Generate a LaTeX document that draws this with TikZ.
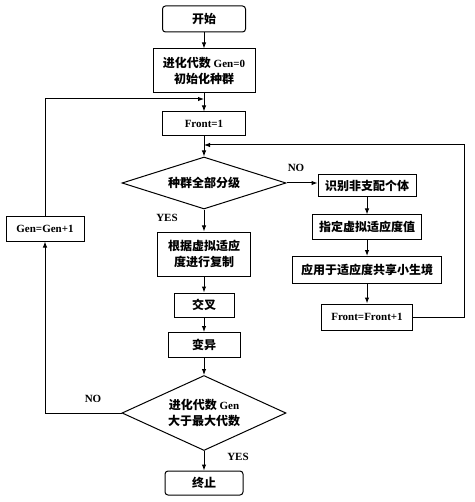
\documentclass[tikz,border=0pt]{standalone}
\usepackage{fontspec}
\setmainfont{Liberation Serif}
\newfontfamily\cjk{Noto Sans CJK SC}
\usetikzlibrary{shapes.geometric,arrows.meta}
\newcommand{\lat}[1]{{\rmfamily\bfseries\fontsize{11}{16}\selectfont #1}}

\tikzset{
    box/.style={draw, line width=1pt, inner sep=2pt, align=center,
        font=\cjk\bfseries\fontsize{12}{16}\selectfont},
    endbox/.style={box, rounded corners=3pt},
    decision/.style={draw, diamond, line width=1pt, inner sep=0pt, align=center,
        shape aspect=3, font=\cjk\bfseries\fontsize{12}{16}\selectfont},
    flow/.style={-{Latex[length=6pt,width=4.5pt]}, line width=1pt},
    tag/.style={font=\rmfamily\bfseries\fontsize{11}{13}\selectfont}
}

\begin{document}
\begin{tikzpicture}[x=1pt, y=-1pt]
        \fill [white] (0,0) rectangle (474,502);
        \useasboundingbox (0,0) rectangle (474,502);
        % main column
        \node [endbox, minimum width=83pt, minimum height=26pt] (start) at (204,19) {开始};
        \node [box, minimum width=102pt, minimum height=44pt] (init) at (204,71)
            {进化代数 \lat{Gen=0}\\初始化种群};
        \node [box, minimum width=83pt, minimum height=24pt] (front) at (204,124) {\lat{Front=1}};
        \node [decision, minimum width=164pt, minimum height=52pt] (sorted) at (204,183) {种群全部分级};
        \node [box, minimum width=93pt, minimum height=44pt] (copy) at (204,254)
            {根据虚拟适应\\度进行复制};
        \node [box, minimum width=60pt, minimum height=24pt] (cross) at (204,305) {交叉};
        \node [box, minimum width=72pt, minimum height=25pt] (mutate) at (204,345) {变异};
        \node [decision, shape aspect=2, minimum width=164pt, minimum height=75pt] (maxgen) at (204,413)
            {进化代数 \lat{Gen}\\大于最大代数};
        \node [endbox, minimum width=78pt, minimum height=24pt] (stop) at (204,483) {终止};
        % right column
        \node [box, minimum width=98pt, minimum height=22pt] (nondom) at (367,186) {识别非支配个体};
        \node [box, minimum width=109pt, minimum height=24pt] (dummy) at (367,227) {指定虚拟适应度值};
        \node [box, minimum width=149pt, minimum height=27pt] (share) at (367,270) {应用于适应度共享小生境};
        \node [box, minimum width=91pt, minimum height=26pt] (next) at (367,317) {\lat{Front=Front+1}};
        % left column
        \node [box, minimum width=78pt, minimum height=24pt] (gen) at (45,229) {\lat{Gen=Gen+1}};
        % labels
        \node [tag] (no1) at (296,168) {NO};
        \node [tag] (yes1) at (167,218) {YES};
        \node [tag] (no2) at (93,399) {NO};
        \node [tag] (yes2) at (238,457) {YES};
        % loop points
        \coordinate (loopin) at (204,99);
        \coordinate (frontin) at (204,145);
        \coordinate (rtop) at (464,145);
        \coordinate (lbot) at (45,413);
        \coordinate (ltop) at (45,99);
        % connectors
        \draw [flow] (start) -- (init);
        \draw [flow] (init) -- (front);
        \draw [flow] (front) -- (sorted);
        \draw [flow] (sorted) -- (copy);
        \draw [flow] (copy) -- (cross);
        \draw [flow] (cross) -- (mutate);
        \draw [flow] (mutate) -- (maxgen);
        \draw [flow] (maxgen) -- (stop);
        \draw [flow] (sorted.east) -- (sorted.east -| nondom.west);
        \draw [flow] (nondom) -- (dummy);
        \draw [flow] (dummy) -- (share);
        \draw [flow] (share) -- (next);
        \draw [flow] (next.east) -| (rtop) -- (frontin);
        \draw [flow] (maxgen.west) -- (lbot) -- (gen.south);
        \draw [flow] (gen.north) -- (ltop) -- (loopin);
    \end{tikzpicture}
\end{document}
